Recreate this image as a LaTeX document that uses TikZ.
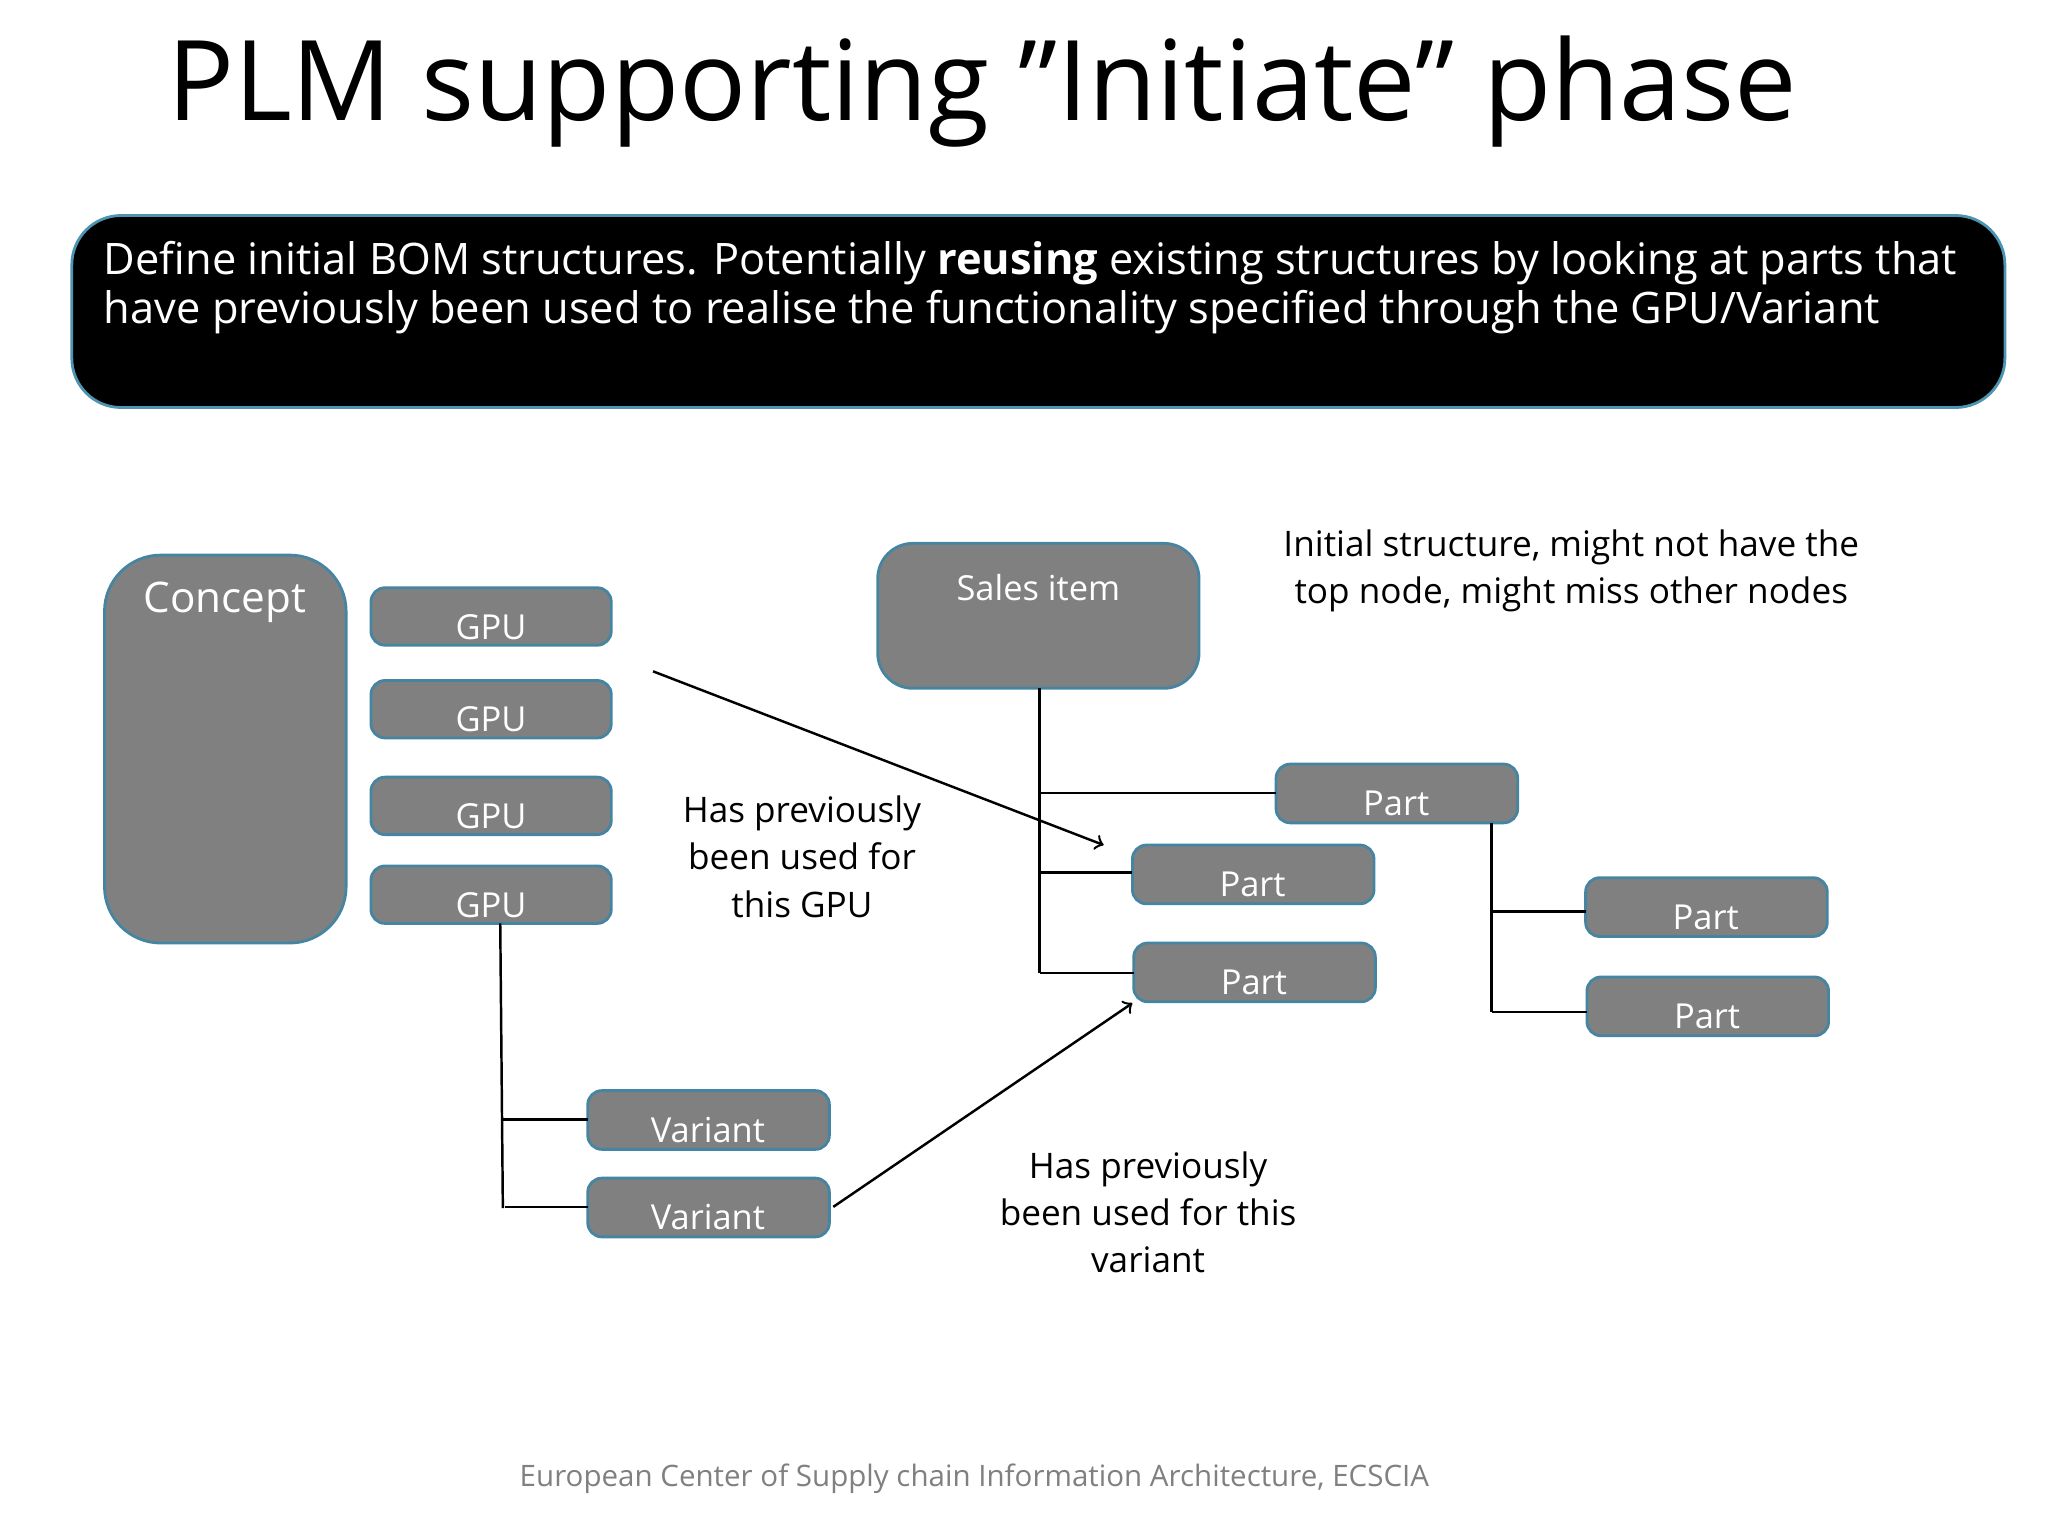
\documentclass[tikz,border=0pt]{standalone}
\usepackage{fontspec}
\setmainfont{Open Sans}
\begin{document}
\begin{tikzpicture}[x=0.013061cm,y=-0.013061cm,
 gb/.style={draw=blue!30!cyan!40!gray!90!black,line width=0.8pt,fill=gray,rounded corners=4pt},
 lbl/.style={text=white,font=\fontsize{9.8}{12}\selectfont},
 ln/.style={line width=0.7pt},
 note/.style={align=center,font=\fontsize{10}{13.4}\selectfont}]
\useasboundingbox (0,0) rectangle (1568,1176);
\node (title) at (752,70) {\fontsize{31.7}{36}\selectfont PLM supporting ”Initiate” phase};
\draw[fill=black,draw=blue!30!cyan!40!gray,line width=0.8pt,rounded corners=14pt] (55,165) rectangle (1535,312);
\node[text=white,anchor=north west,align=left,inner sep=0pt,font=\fontsize{12.35}{14}\selectfont] (def) at (79,184) {Define initial BOM structures. Potentially \textbf{reusing} existing structures by looking at parts that\\have previously been used to realise the functionality specified through the GPU/Variant};
\draw[gb,rounded corners=16pt] (80,425) rectangle (265,722);
\node[lbl,font=\fontsize{12}{14}\selectfont] (concept) at (172,461) {Concept};
\foreach \n/\y in {g1/450,g2/521,g3/595,g4/663}{
 \draw[gb] (284,\y) rectangle (468,\y+44);
 \node[lbl] (\n) at (376,\y+30) {GPU};}
\draw[gb,rounded corners=10pt] (672,416) rectangle (918,527);
\node[lbl] (sales) at (795,450) {Sales item};
\foreach \n/\x/\y/\t in {p1/977/585/Part,p2/867/647/Part,p3/868/722/Part,p4/1214/672/Part,p5/1215/748/Part,v1/450/835/Variant,v2/450/902/Variant}{
 \draw[gb] (\x,\y) rectangle (\x+185,\y+45);
 \node[lbl] (\n) at (\x+92,\y+30) {\t};}
\draw[ln] (796,527) -- (796,745);
\draw[ln] (796,607) -- (977,607);
\draw[ln] (796,668) -- (867,668);
\draw[ln] (796,745) -- (868,745);
\draw[ln] (1142,630) -- (1142,775);
\draw[ln] (1142,698) -- (1214,698);
\draw[ln] (1142,775) -- (1215,775);
\draw[ln] (383,707) -- (385,925);
\draw[ln] (385,857) -- (450,857);
\draw[ln] (387,924) -- (450,924);
\coordinate (a1) at (500,514); \coordinate (a1e) at (845,647);
\coordinate (a2) at (638,924); \coordinate (a2e) at (867,768);
\draw[ln,->] (a1) -- (a1e);
\draw[ln,->] (a2) -- (a2e);
\node[note] (n1) at (614,656) {Has previously\\been used for\\this GPU};
\node[note] (n2) at (879,928) {Has previously\\been used for this\\variant};
\node[note] (n3) at (1203,437) {Initial structure, might not have the\\top node, might miss other nodes};
\node[text=gray,font=\fontsize{8.4}{10}\selectfont] (foot) at (746,1132) {European Center of Supply chain Information Architecture, ECSCIA};
\end{tikzpicture}
\end{document}
